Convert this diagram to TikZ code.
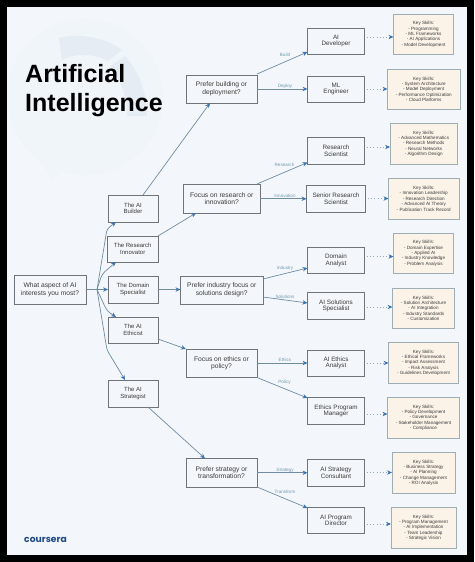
\documentclass[tikz,border=0pt]{standalone}
\usepackage{fontspec}
\setmainfont{Liberation Sans}
\newfontfamily\logofont{Poppins}
\usetikzlibrary{arrows.meta}
\definecolor{pagebg}{HTML}{F3F7FB}
\definecolor{wmA}{HTML}{F0F5FA}
\definecolor{wmB}{HTML}{E6ECF3}
\definecolor{boxline}{HTML}{707377}
\definecolor{inktext}{HTML}{3A3A3A}
\definecolor{skillbg}{HTML}{FBF3E8}
\definecolor{skillline}{HTML}{9FAEB5}
\definecolor{connline}{HTML}{6F8CA3}
\definecolor{tipblue}{HTML}{3E74AE}
\definecolor{lbl}{HTML}{7199AE}
\definecolor{courseranavy}{HTML}{1F4A86}
\tikzset{
  basebox/.style={draw=boxline,line width=1pt,fill=pagebg,text=inktext,align=center,inner sep=0pt,outer sep=0pt},
  askbox/.style={basebox,font=\fontsize{6.7}{7.5}\selectfont},
  persona/.style={basebox,font=\fontsize{6}{6.5}\selectfont},
  rolebox/.style={basebox,font=\fontsize{6.3}{6.5}\selectfont},
  skillbox/.style={draw=skillline,line width=.9pt,fill=skillbg,text=inktext,align=center,inner sep=0pt,outer sep=0pt,font=\fontsize{4.6}{5.4}\selectfont},
  conn/.style={draw=connline,line width=.7pt,-{Stealth[length=5pt,width=4.4pt,color=tipblue]}},
  dotconn/.style={draw=connline!75,line width=.7pt,dash pattern=on .8pt off 2.4pt,shorten <=2.5pt,-{Stealth[length=5pt,width=4.4pt,color=tipblue]}},
  edgelabel/.style={text=lbl,font=\fontsize{4.6}{5}\selectfont,inner sep=0pt}
}
\newcommand{\bx}[7]{%
  \pgfmathsetmacro{\bxw}{#5-#3}\pgfmathsetmacro{\bxh}{#6-#4}%
  \pgfmathsetmacro{\bxx}{(#3+#5)/2}\pgfmathsetmacro{\bxy}{(#4+#6)/2}%
  \node[#1,minimum width=\bxw pt,minimum height=\bxh pt] (#2) at (\bxx,\bxy) {#7};}
\begin{document}
\begin{tikzpicture}[x=1pt,y=-1pt]
\useasboundingbox (0,0) rectangle (474,562);
\fill[black] (0,0) rectangle (474,562);
\fill[pagebg] (7,6.5) rectangle (466.7,555);
% faint watermark
\fill[wmA] (85,97) circle (78);
\fill[wmA] (22,130) -- (52,180) -- (62,170) -- (60,140) -- cycle;
\fill[wmB] (59,38) .. controls (78,33) and (105,37) .. (122,50) -- (108,61) .. controls (95,54) and (78,52) .. (62,60) -- cycle;
\fill[wmB] (125,56) .. controls (140,72) and (147,95) .. (147,116) -- (127,116) .. controls (127,95) and (120,78) .. (110,66) -- cycle;
% title
\node[anchor=base west,inner sep=0pt,text=black,font=\fontsize{25}{28}\selectfont\bfseries] (title1) at (25,82) {Artificial};
\node[anchor=base west,inner sep=0pt,text=black,font=\fontsize{25}{28}\selectfont\bfseries] (title2) at (25,111) {Intelligence};
\node[anchor=base west,inner sep=0pt,text=courseranavy,font=\fontsize{9.2}{10}\logofont\bfseries] (logo) at (24,542) {coursera};
% first column
\bx{askbox}{root}{14}{275.5}{86}{304}{What aspect of AI\\interests you most?}
\bx{persona}{p1}{108}{195}{158}{222}{The AI\\Builder}
\bx{persona}{p2}{107.5}{236}{158}{262}{The Research\\Innovator}
\bx{persona}{p3}{108}{276}{158}{303}{The Domain\\Specialist}
\bx{persona}{p4}{108}{317}{158}{343}{The AI\\Ethicist}
\bx{persona}{p5}{108}{380}{158}{407}{The AI\\Strategist}
% questions
\bx{askbox}{q1}{186}{75}{257}{103}{Prefer building or\\deployment?}
\bx{askbox}{q2}{183.5}{184}{260}{213}{Focus on research or\\innovation?}
\bx{askbox}{q3}{180.5}{276}{263}{304}{Prefer industry focus or\\solutions design?}
\bx{askbox}{q4}{186}{349}{257}{377.5}{Focus on ethics or\\policy?}
\bx{askbox}{q5}{186}{458.5}{257}{487}{Prefer strategy or\\transformation?}
% roles
\bx{rolebox}{r1}{307.5}{28}{364.5}{54}{AI\\Developer}
\bx{rolebox}{r2}{307.5}{76}{364.5}{102}{ML\\Engineer}
\bx{rolebox}{r3}{307.5}{137.5}{364.5}{164}{Research\\Scientist}
\bx{rolebox}{r4}{306.5}{185.5}{365.5}{212}{Senior Research\\Scientist}
\bx{rolebox}{r5}{307.5}{247}{364.5}{273.5}{Domain\\Analyst}
\bx{rolebox}{r6}{307.5}{292.5}{364.5}{319}{AI Solutions\\Specialist}
\bx{rolebox}{r7}{307.5}{350}{364.5}{376}{AI Ethics\\Analyst}
\bx{rolebox}{r8}{307.5}{397.5}{364.5}{424}{Ethics Program\\Manager}
\bx{rolebox}{r9}{307.5}{459.5}{364.5}{486}{AI Strategy\\Consultant}
\bx{rolebox}{r10}{307.5}{507}{364.5}{533.5}{AI Program\\Director}
% skills
\bx{skillbox}{s1}{393.5}{14}{453.5}{54.5}{Key Skills:\\- Programming\\- ML Frameworks\\- AI Applications\\- Model Development}
\bx{skillbox}{s2}{387.5}{69}{460}{109.5}{Key Skills:\\- System Architecture\\- Model Deployment\\- Performance Optimization\\- Cloud Platforms}
\bx{skillbox}{s3}{390}{123.5}{457.5}{164}{Key Skills:\\- Advanced Mathematics\\- Research Methods\\- Neural Networks\\- Algorithm Design}
\bx{skillbox}{s4}{388.5}{178.5}{459}{219}{Key Skills:\\- Innovation Leadership\\- Research Direction\\- Advanced AI Theory\\- Publication Track Record}
\bx{skillbox}{s5}{393.5}{233}{453.5}{273.5}{Key Skills:\\- Domain Expertise\\- Applied AI\\- Industry Knowledge\\- Problem Analysis}
\bx{skillbox}{s6}{392.5}{288}{454.5}{328.5}{Key Skills:\\- Solution Architecture\\- AI Integration\\- Industry Standards\\- Customization}
\bx{skillbox}{s7}{388.5}{342.5}{458.5}{383}{Key Skills:\\- Ethical Frameworks\\- Impact Assessment\\- Risk Analysis\\- Guidelines Development}
\bx{skillbox}{s8}{387.5}{397.5}{459.5}{438}{Key Skills:\\- Policy Development\\- Governance\\- Stakeholder Management\\- Compliance}
\bx{skillbox}{s9}{392}{452.5}{455}{493}{Key Skills:\\- Business Strategy\\- AI Planning\\- Change Management\\- ROI Analysis}
\bx{skillbox}{s10}{391}{507.5}{456}{548}{Key Skills:\\- Program Management\\- AI Implementation\\- Team Leadership\\- Strategic Vision}
% root fan-out
\coordinate (fan) at (97,289.5);
\draw[draw=connline,line width=.7pt] (root.east |- fan) -- (fan);
\draw[conn,rounded corners=3pt] (fan) -- (107,229) -- (p1.south -| 116,0);
\draw[conn,rounded corners=4pt] (fan) -- (102,274) -- (p2.south -| 116,0);
\draw[conn] (fan) -- (p3.west |- fan);
\draw[conn,rounded corners=4pt] (fan) -- (107,311) -- (p4.north -| 116,0);
\draw[conn,rounded corners=3pt] (fan) -- (107,350) -- (p5.north -| 125,0);
% personas to questions
\draw[conn] (p1.north -| 143,0) -- (q1.south -| 210,0);
\draw[conn] (p2.north east) -- (q2.south -| 196,0);
\draw[conn] (p3.east |- fan) -- (q3.west |- fan);
\draw[conn] (p4.east |- 0,339) -- (q4.north -| 186,0);
\draw[conn] (p5.south -| 148,0) -- (q5.north -| 205,0);
% questions to roles
\draw[conn] (q1.east |- 0,74) -- (r1.west |- 0,52);
\draw[conn] (q1.east |- r2.west) -- (r2.west);
\draw[conn] (q2.north -| 257,0) -- (r3.west |- 0,162.5);
\draw[conn] (q2.east |- r4.west) -- (r4.west);
\draw[conn] (q3.east |- 0,279) -- (r5.west |- 0,268);
\draw[conn] (q3.east |- 0,297) -- (r6.west |- 0,303);
\draw[conn] (q4.east |- r7.west) -- (r7.west);
\draw[conn] (q4.south east) -- (r8.west |- 0,398);
\draw[conn] (q5.east |- r9.west) -- (r9.west);
\draw[conn] (q5.south east) -- (r10.west |- 0,508);
% dotted to skills
\draw[dotconn] (r1.east |- 0,37) -- (s1.west |- 0,37);
\draw[dotconn] (r2.east |- 0,89) -- (s2.west |- 0,89);
\draw[dotconn] (r3.east |- 0,147) -- (s3.west |- 0,147);
\draw[dotconn] (r4.east |- 0,198.5) -- (s4.west |- 0,198.5);
\draw[dotconn] (r5.east |- 0,256.5) -- (s5.west |- 0,256.5);
\draw[dotconn] (r6.east |- 0,307) -- (s6.west |- 0,307);
\draw[dotconn] (r7.east |- 0,363) -- (s7.west |- 0,363);
\draw[dotconn] (r8.east |- 0,414) -- (s8.west |- 0,414);
\draw[dotconn] (r9.east |- 0,472.5) -- (s9.west |- 0,472.5);
\draw[dotconn] (r10.east |- 0,524) -- (s10.west |- 0,524);
% labels
\node[edgelabel] (l1) at (285,55) {Build};
\node[edgelabel] (l2) at (285,86) {Deploy};
\node[edgelabel] (l3) at (284.5,165) {Research};
\node[edgelabel] (l4) at (285,195.5) {Innovation};
\node[edgelabel] (l5) at (285,268) {Industry};
\node[edgelabel] (l6) at (285,296.5) {Solutions};
\node[edgelabel] (l7) at (285,360) {Ethics};
\node[edgelabel] (l8) at (284.5,382.5) {Policy};
\node[edgelabel] (l9) at (285,470) {Strategy};
\node[edgelabel] (l10) at (285,492) {Transform};
\end{tikzpicture}
\end{document}
